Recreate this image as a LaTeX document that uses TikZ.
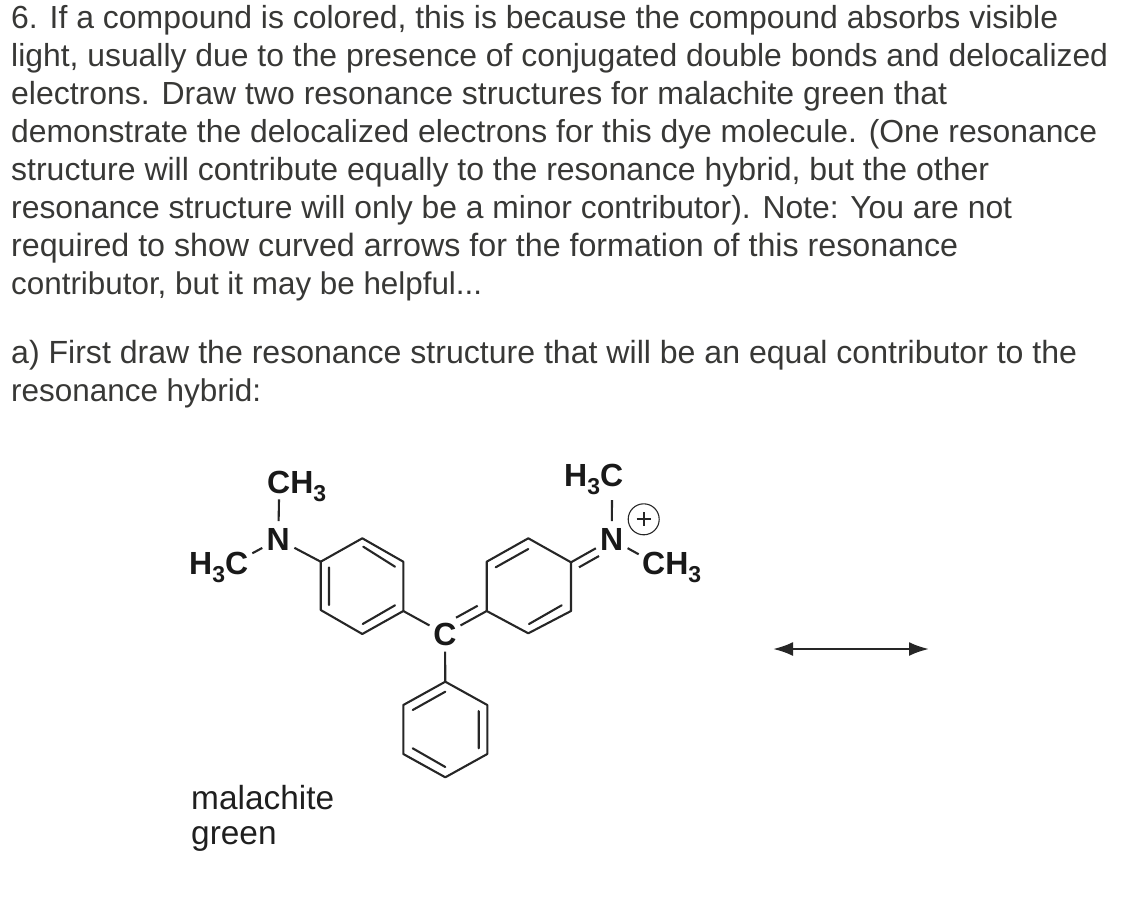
\documentclass[tikz,border=0pt]{standalone}
\usepackage{fontspec}
\setmainfont{Liberation Sans}
\usetikzlibrary{arrows.meta}
\definecolor{bodyink}{HTML}{383836}
\definecolor{bondink}{HTML}{262626}
\newcommand{\bodysize}{\fontsize{32}{38}\selectfont}
\newcommand{\atomsize}{\fontsize{32}{32}\selectfont\bfseries}
\newcommand{\fitline}[2]{\resizebox{#1pt}{!}{#2}}
\newcommand{\atomsub}[1]{\raisebox{-8pt}{\fontsize{23}{23}\selectfont #1}}
\tikzset{
  x=1pt,y=-1pt,
  textline/.style={anchor=base west,inner sep=0pt,text=bodyink,font=\bodysize},
  captionline/.style={anchor=base west,inner sep=0pt,text=black!88,font=\fontsize{33.4}{36}\selectfont},
  atomlabel/.style={anchor=base west,inner sep=0pt,text=black!90,font=\atomsize},
  atomring/.style={circle,minimum size=36pt,inner sep=0pt,text=black!90,font=\atomsize},
  bond/.style={draw=bondink,line width=2.1pt},
  ringbond/.style={bond,line join=round,line cap=round},
}
\begin{document}
\begin{tikzpicture}
\useasboundingbox (0,0) rectangle (1124,900);
% question text
\node[textline] (t1) at (11,28) {\fitline{1047}{6. If a compound is colored, this is because the compound absorbs visible}};
\node[textline] (t2) at (11,66) {\fitline{1097}{light, usually due to the presence of conjugated double bonds and delocalized}};
\node[textline] (t3) at (11,104) {\fitline{936}{electrons. Draw two resonance structures for malachite green that}};
\node[textline] (t4) at (11,142) {\fitline{1086}{demonstrate the delocalized electrons for this dye molecule. (One resonance}};
\node[textline] (t5) at (11,180) {\fitline{978}{structure will contribute equally to the resonance hybrid, but the other}};
\node[textline] (t6) at (11,218) {\fitline{1001}{resonance structure will only be a minor contributor). Note: You are not}};
\node[textline] (t7) at (11,256) {\fitline{947}{required to show curved arrows for the formation of this resonance}};
\node[textline] (t8) at (11,294) {\fitline{471}{contributor, but it may be helpful...}};
\node[textline] (t9) at (11,363.5) {\fitline{1066}{a) First draw the resonance structure that will be an equal contributor to the}};
\node[textline] (t10) at (11,401.5) {\fitline{250}{resonance hybrid:}};
\node[captionline] (cap1) at (191,809) {malachite};
\node[captionline] (cap2) at (191,844.5) {green};
% atoms
\node[atomring] (NL) at (278.3,539.3) {N};
\node[atomring] (NR) at (611.7,539.3) {N};
\node[atomring,minimum size=35pt] (CC) at (445,634) {C};
\node[atomlabel] (meLT) at (267,493) {CH\atomsub{3}};
\node[atomlabel] (meLL) at (189,574) {H\atomsub{3}C};
\node[atomlabel] (meRT) at (564,486) {H\atomsub{3}C};
\node[atomlabel] (meRR) at (642,574.5) {CH\atomsub{3}};
\coordinate (aLT) at (279,499.3);
\coordinate (aLL) at (252.3,553.3);
\coordinate (aRT) at (612,500);
\coordinate (aRR) at (638.7,554.3);
% left ring
\coordinate (a1) at (362.3,538.3); \coordinate (a2) at (403.3,561.7);
\coordinate (a3) at (403.3,611);   \coordinate (a4) at (362.3,634);
\coordinate (a5) at (320.7,610);   \coordinate (a6) at (320.7,561.7);
\draw[ringbond] (a1)--(a2)--(a3)--(a4)--(a5)--(a6)--cycle;
\draw[ringbond] (363.3,546.7)--(395,566.7) (362.7,624)--(395,605.3) (329,567.3)--(329,605);
% right ring
\coordinate (b1) at (528.3,538.3); \coordinate (b2) at (571,562.3);
\coordinate (b3) at (571,611);     \coordinate (b4) at (528.3,633.3);
\coordinate (b5) at (486.7,611);   \coordinate (b6) at (486.7,561.7);
\draw[ringbond] (b1)--(b2)--(b3)--(b4)--(b5)--(b6)--cycle;
\draw[ringbond] (495.7,567.3)--(528.3,549) (529,624)--(561.7,605.3);
% bottom ring
\coordinate (c1) at (445.3,681.7); \coordinate (c2) at (487.3,705);
\coordinate (c3) at (487.3,754);   \coordinate (c4) at (445.3,777.3);
\coordinate (c5) at (403.3,754);   \coordinate (c6) at (403.3,705);
\draw[ringbond] (c1)--(c2)--(c3)--(c4)--(c5)--(c6)--cycle;
\draw[ringbond] (412.7,710)--(445.3,691.7) (478.7,711)--(478.7,748.3) (412.7,748.3)--(445.3,767);
% connectors
\draw[bond] (NL)--(aLT);
\draw[bond] (NL)--(aLL);
\draw[bond] (NL)--(a6);
\draw[bond] (CC)--(a3);
\draw[bond] (CC)--(b5);
\draw[bond] (477.7,605.7)--(456,617.7);
\draw[bond] (CC)--(c1);
\draw[bond] (NR)--(aRT);
\draw[bond] (NR)--(aRR);
\draw[bond] (NR)--(b2);
\draw[bond] (579,567.3)--(599,556);
% charge
\node[circle,draw=bondink,line width=1.1pt,minimum size=31pt,inner sep=0pt] (charge) at (643.7,519.3) {};
\draw[bondink,line width=1.7pt] (636.7,519.3)--(650.7,519.3) (643.7,512.3)--(643.7,526.3);
% equilibrium arrow
\coordinate (arL) at (773,649);
\coordinate (arR) at (929,649);
\draw[draw=bondink,line width=2.4pt,{Latex[length=20pt,width=14pt]}-{Latex[length=20pt,width=14pt]}] (arL)--(arR);
\end{tikzpicture}
\end{document}
